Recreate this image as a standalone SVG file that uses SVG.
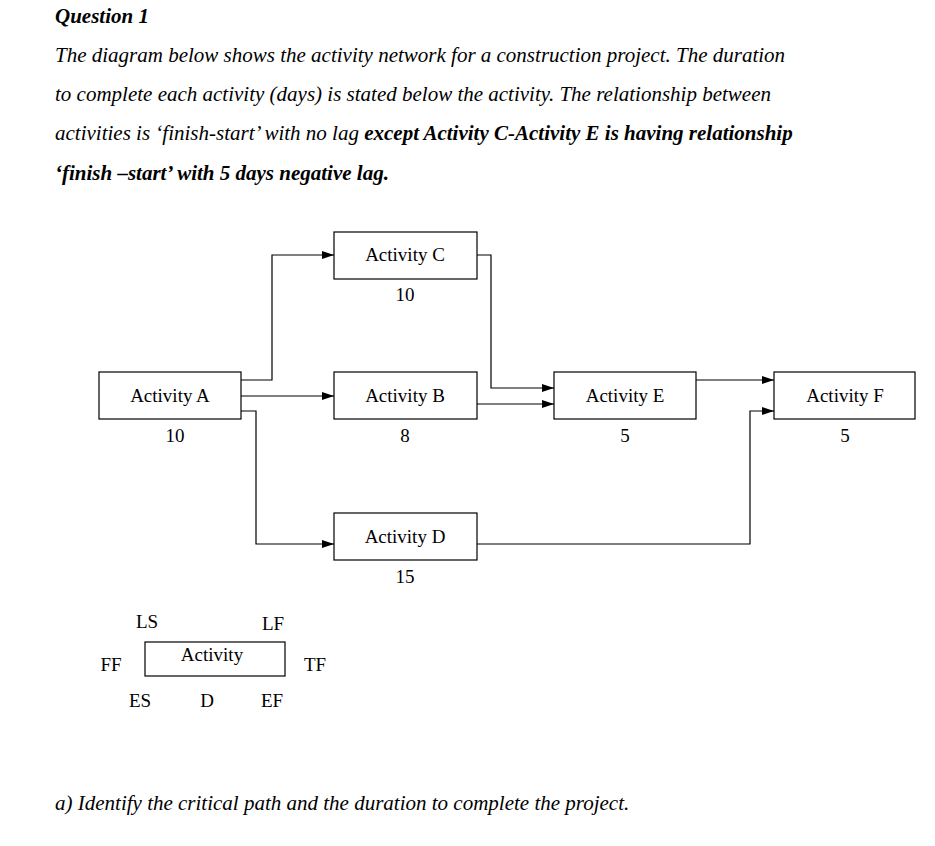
<svg xmlns="http://www.w3.org/2000/svg" width="935" height="846" viewBox="0 0 935 846">
<style>
text{font-family:"Liberation Serif","Times New Roman",serif;fill:#000}
.p{font-size:21px;font-style:italic}
.b{font-weight:bold}
.n{font-size:19px;text-anchor:middle}
.box{fill:#fff;stroke:#000;stroke-width:1.2}
.c{fill:none;stroke:#000;stroke-width:1.2}
</style>
<defs><marker id="ar" markerWidth="12" markerHeight="8" refX="12" refY="4" orient="auto" markerUnits="userSpaceOnUse"><path d="M0,0L12,4L0,8z" fill="#000"/></marker></defs>
<rect width="935" height="846" fill="#fff"/>
<g id="text">
<text x="55" y="23" class="p b">Question 1</text>
<text x="55" y="62" class="p">The diagram below shows the activity network for a construction project. The duration</text>
<text x="55" y="101" class="p">to complete each activity (days) is stated below the activity.  The relationship between</text>
<text x="55" y="140" class="p">activities is ‘finish-start’ with no lag <tspan class="b">except Activity C-Activity E is having relationship</tspan></text>
<text x="55" y="180" class="p b">‘finish –start’ with 5 days negative lag.</text>
<text x="55" y="810" class="p">a)  Identify the critical path and the duration to complete the project.</text>
</g>
<g id="connectors">
<polyline class="c" points="241,380 272,380 272,255 334,255" marker-end="url(#ar)"/>
<line class="c" x1="241" y1="396" x2="334" y2="396" marker-end="url(#ar)"/>
<polyline class="c" points="241,411 256,411 256,544 334,544" marker-end="url(#ar)"/>
<polyline class="c" points="477,255 491,255 491,388 554,388" marker-end="url(#ar)"/>
<line class="c" x1="477" y1="404" x2="554" y2="404" marker-end="url(#ar)"/>
<line class="c" x1="696" y1="380" x2="774" y2="380" marker-end="url(#ar)"/>
<polyline class="c" points="477,544 750,544 750,411 774,411" marker-end="url(#ar)"/>
</g>
<g id="nodeA"><rect class="box" x="99" y="372" width="142" height="47"/><text class="n" x="170" y="402">Activity A</text><text class="n" x="175" y="442">10</text></g>
<g id="nodeC"><rect class="box" x="334" y="232" width="143" height="47"/><text class="n" x="405" y="261">Activity C</text><text class="n" x="405" y="301">10</text></g>
<g id="nodeB"><rect class="box" x="334" y="372" width="143" height="47"/><text class="n" x="405" y="402">Activity B</text><text class="n" x="405" y="442">8</text></g>
<g id="nodeD"><rect class="box" x="334" y="513" width="143" height="47"/><text class="n" x="405" y="543">Activity D</text><text class="n" x="405" y="583">15</text></g>
<g id="nodeE"><rect class="box" x="554" y="372" width="142" height="47"/><text class="n" x="625" y="402">Activity E</text><text class="n" x="625" y="442">5</text></g>
<g id="nodeF"><rect class="box" x="774" y="372" width="141" height="47"/><text class="n" x="845" y="402">Activity F</text><text class="n" x="845" y="442">5</text></g>
<g id="legend"><rect class="box" x="145" y="642" width="140" height="34"/>
<text class="n" x="147" y="628">LS</text><text class="n" x="273" y="630">LF</text>
<text class="n" x="212" y="661">Activity</text>
<text class="n" x="111" y="671">FF</text><text class="n" x="315" y="671">TF</text>
<text class="n" x="140" y="707">ES</text><text class="n" x="207" y="707">D</text><text class="n" x="272" y="707">EF</text></g>
</svg>
